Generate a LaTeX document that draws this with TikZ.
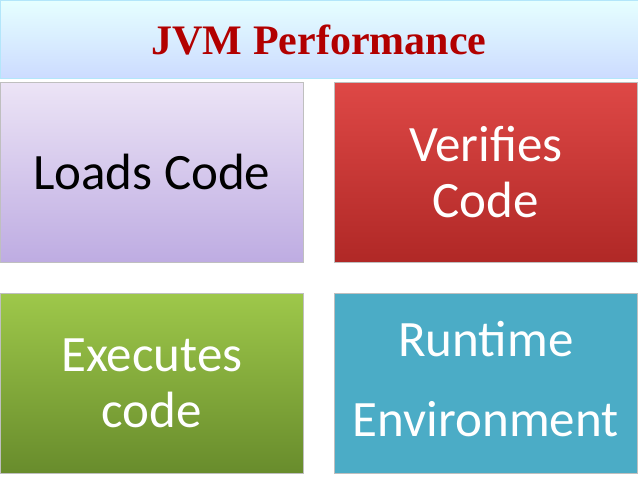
\documentclass[tikz,border=0pt]{standalone}
\usepackage{fontspec}
\setmainfont{Carlito}
\newfontfamily\titlefont{Liberation Serif}
\definecolor{lavtop}{RGB}{236,228,246}
\definecolor{lavbot}{RGB}{190,172,226}
\definecolor{redtop}{RGB}{222,72,70}
\definecolor{redbot}{RGB}{176,40,38}
\definecolor{grntop}{RGB}{158,200,74}
\definecolor{grnbot}{RGB}{104,140,44}
\definecolor{teal}{RGB}{75,172,198}
\begin{document}
\begin{tikzpicture}[x=1pt,y=-1pt,
  box/.style={minimum width=303pt,minimum height=180pt,anchor=north west,inner sep=0pt,align=center,font=\fontsize{51}{56}\selectfont,draw=black!25,line width=0.6pt}]
\useasboundingbox (0,0) rectangle (638,478);
\node[anchor=north west,minimum width=638pt,minimum height=78pt,inner sep=0pt,top color=cyan!10,bottom color=cyan!30!blue!20,draw=cyan!30] (title) at (0,0) {};
\node[font=\titlefont\bfseries\fontsize{42}{44}\selectfont,text=red!70!black] (tt) at (319,40) {JVM Performance};
\node[box,top color=lavtop,bottom color=lavbot] (a) at (0,82) {Loads Code};
\node[box,top color=redtop,bottom color=redbot,text=white] (b) at (334,82) {Verifies\\Code};
\node[box,top color=grntop,bottom color=grnbot,text=white] (c) at (0,293) {Executes\\code};
\node[box,fill=teal,text=white,font=\fontsize{51}{80}\selectfont] (d) at (334,293) {Runtime\\Environment\vphantom{p}};
\end{tikzpicture}
\end{document}
